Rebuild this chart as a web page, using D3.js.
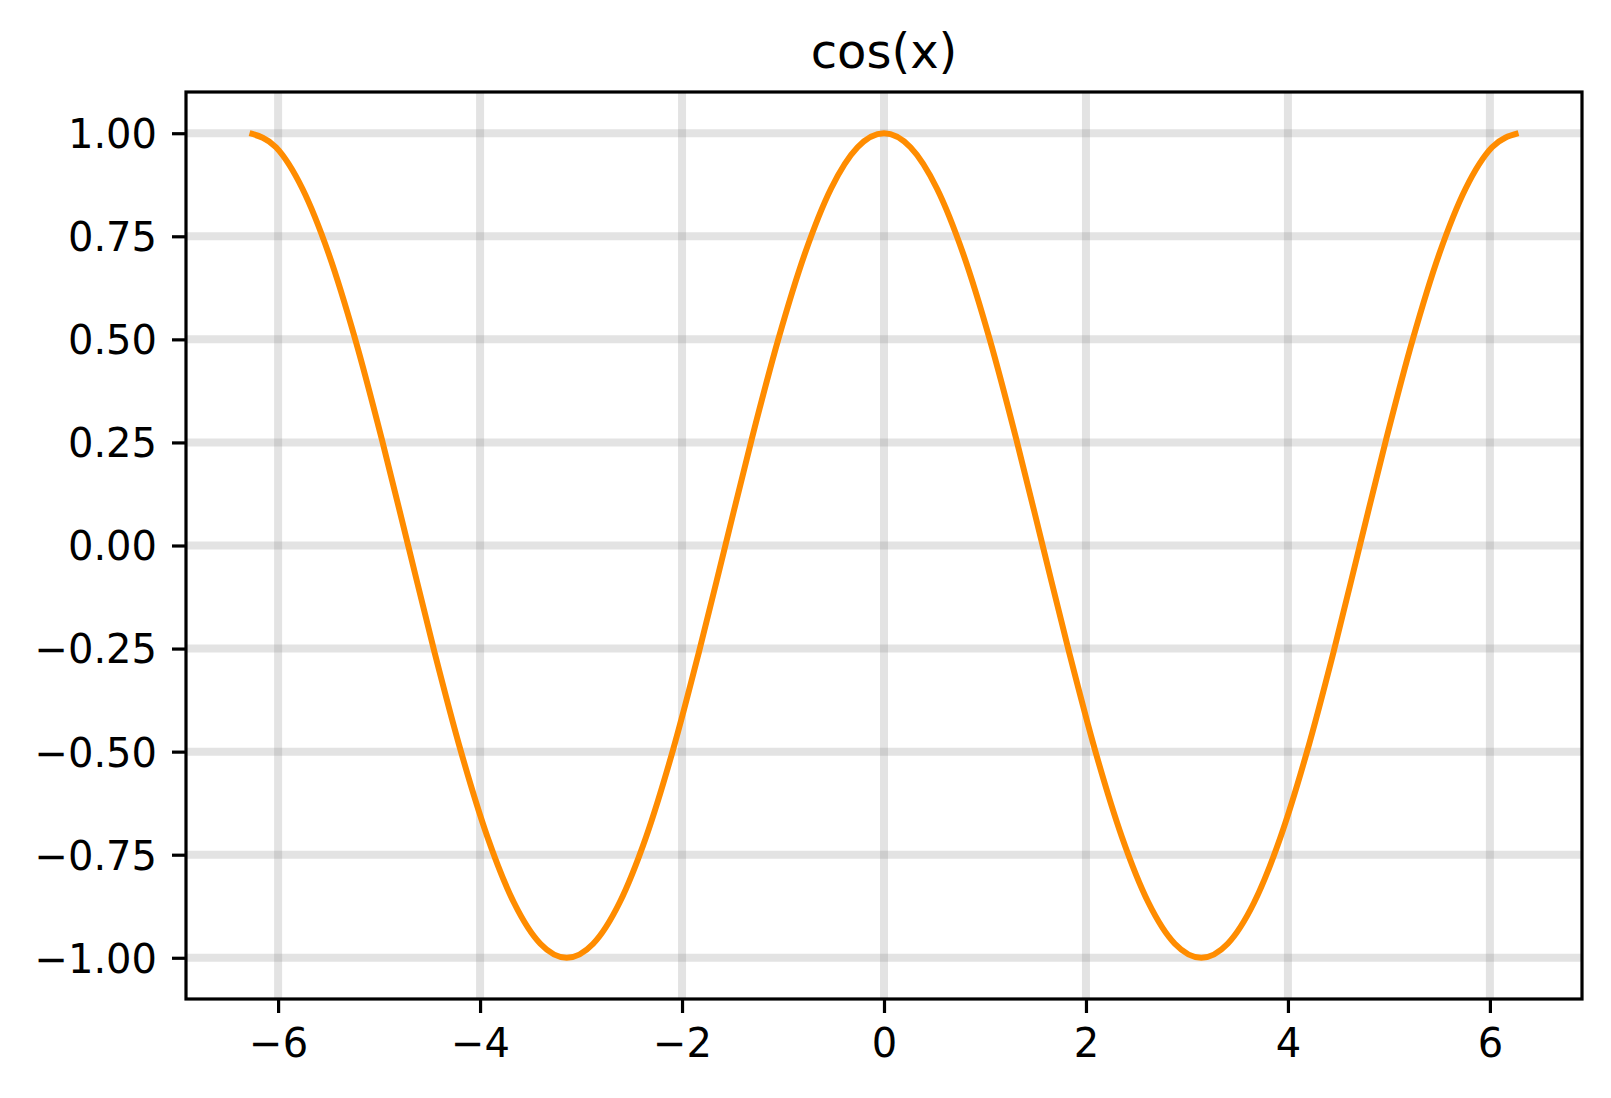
<!DOCTYPE html>
<html>
<head>
<meta charset="utf-8">
<script src="https://cdn.jsdelivr.net/npm/d3@7"></script>
<style>
  body { margin: 0; background: #fff; }
  svg { display: block; font-family: "DejaVu Sans", sans-serif; }
  .tick text { font-size: 40px; fill: #000; }
</style>
</head>
<body>
<div id="chart"></div>
<script>
// Values
var xValues = [-6.283, -6.021, -5.760, -5.498, -5.236, -4.974, -4.712, -4.451, -4.189, -3.927, -3.665, -3.403,
  -3.142, -2.880, -2.618, -2.356, -2.094, -1.833, -1.571, -1.309, -1.047, -0.785, -0.524, -0.262,
  0.0, 0.262, 0.524, 0.785, 1.047, 1.309, 1.571, 1.833, 2.094, 2.356, 2.618, 2.880,
  3.142, 3.403, 3.665, 3.927, 4.189, 4.451, 4.712, 4.974, 5.236, 5.498, 5.760, 6.021, 6.283];
var yValues = [1.000, 0.966, 0.866, 0.707, 0.500, 0.259, 0.000, -0.259, -0.500, -0.707, -0.866, -0.966,
  -1.000, -0.966, -0.866, -0.707, -0.500, -0.259, 0.000, 0.259, 0.500, 0.707, 0.866, 0.966,
  1.000, 0.966, 0.866, 0.707, 0.500, 0.259, 0.000, -0.259, -0.500, -0.707, -0.866, -0.966,
  -1.000, -0.966, -0.866, -0.707, -0.500, -0.259, 0.000, 0.259, 0.500, 0.707, 0.866, 0.966, 1.000];
var xTicks = [-6, -4, -2, 0, 2, 4, 6];
var yTicks = [-1.00, -0.75, -0.50, -0.25, 0.00, 0.25, 0.50, 0.75, 1.00];
var titleText = "cos(x)";

var svgWidth = 1611;
var svgHeight = 1098;

var margin = { top: 92, right: 29, bottom: 99, left: 186 };
var chartWidth = svgWidth - margin.left - margin.right;
var chartHeight = svgHeight - margin.top - margin.bottom;

var svg = d3.select("#chart")
  .append("svg")
  .attr("width", svgWidth)
  .attr("height", svgHeight);

var chartGroup = svg.append("g")
  .attr("transform", `translate(${margin.left}, ${margin.top})`);

var xScale = d3.scaleLinear().domain([-6.912, 6.912]).range([0, chartWidth]);
var yScale = d3.scaleLinear().domain([-1.1, 1.1]).range([chartHeight, 0]);

// grid lines
chartGroup.append("g")
  .selectAll("line")
  .data(yTicks)
  .enter()
  .append("line")
  .attr("x1", 0).attr("x2", chartWidth)
  .attr("y1", d => yScale(d)).attr("y2", d => yScale(d))
  .attr("stroke", "#808080").attr("stroke-opacity", 0.22).attr("stroke-width", 8);

chartGroup.append("g")
  .selectAll("line")
  .data(xTicks)
  .enter()
  .append("line")
  .attr("y1", 0).attr("y2", chartHeight)
  .attr("x1", d => xScale(d)).attr("x2", d => xScale(d))
  .attr("stroke", "#808080").attr("stroke-opacity", 0.22).attr("stroke-width", 8);

// the curve
var points = xValues.map((x, i) => [x, yValues[i]]);
var line = d3.line()
  .x(d => xScale(d[0]))
  .y(d => yScale(d[1]))
  .curve(d3.curveMonotoneX);

chartGroup.append("path")
  .datum(points)
  .attr("d", line)
  .attr("fill", "none")
  .attr("stroke", "#ff8c00")
  .attr("stroke-width", 6)
  .attr("stroke-linejoin", "round")
  .attr("stroke-linecap", "butt");

// axes
var bottomAxis = d3.axisBottom(xScale)
  .tickValues(xTicks)
  .tickFormat(d3.format("d"))
  .tickSize(14)
  .tickPadding(16)
  .tickSizeOuter(0);
var leftAxis = d3.axisLeft(yScale)
  .tickValues(yTicks)
  .tickFormat(d3.format(".2f"))
  .tickSize(14)
  .tickPadding(15)
  .tickSizeOuter(0);

var xAxisG = chartGroup.append("g")
  .attr("transform", `translate(0, ${chartHeight})`)
  .call(bottomAxis);
var yAxisG = chartGroup.append("g").call(leftAxis);

[xAxisG, yAxisG].forEach(function(g) {
  g.select(".domain").remove();
  g.selectAll(".tick line").attr("stroke", "#000").attr("stroke-width", 3.2);
  g.selectAll(".tick text").attr("font-family", "DejaVu Sans");
});
yAxisG.selectAll(".tick text").attr("dy", "0.36em");

// frame
chartGroup.append("rect")
  .attr("x", 0).attr("y", 0)
  .attr("width", chartWidth).attr("height", chartHeight)
  .attr("fill", "none")
  .attr("stroke", "#000")
  .attr("stroke-width", 3.2)
  .attr("stroke-linejoin", "miter");

// title
svg.append("text")
  .attr("x", margin.left + chartWidth / 2)
  .attr("y", 68)
  .attr("text-anchor", "middle")
  .attr("font-size", "48px")
  .attr("fill", "#000")
  .text(titleText);
</script>
</body>
</html>
